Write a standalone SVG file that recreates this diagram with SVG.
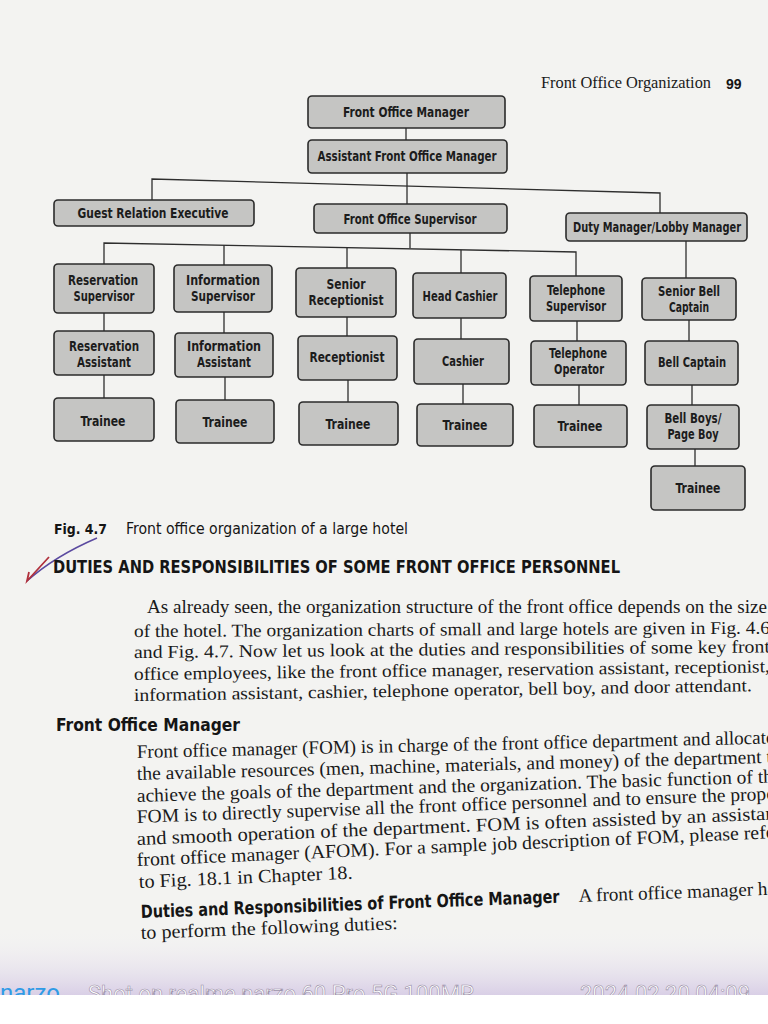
<svg xmlns="http://www.w3.org/2000/svg" width="768" height="1024" viewBox="0 0 768 1024">
<defs>
<style>
.box{fill:#c5c5c3;stroke:#2b2b2b;stroke-width:1.6}
.bt{font-family:'DejaVu Sans Condensed','Liberation Sans',sans-serif;font-weight:bold;font-size:14px;fill:#1c1c1c;text-anchor:middle}
.ln{fill:none;stroke:#2e2e2e;stroke-width:1.3}
.body{font-family:'Liberation Serif','DejaVu Serif',serif;font-size:18px;fill:#1a1a1a}
.hd{font-family:'DejaVu Sans Condensed','Liberation Sans',sans-serif;font-weight:bold;fill:#151515}
.wm{font-family:Roboto,'Liberation Sans',sans-serif;font-size:22px;fill:#ffffff;stroke:#9a8fa8;stroke-width:0.6}
</style>
<linearGradient id="bot" x1="0" y1="0" x2="0" y2="1">
<stop offset="0" stop-color="#f3f2f4" stop-opacity="0"/>
<stop offset="1" stop-color="#d9cfe6" stop-opacity="1"/>
</linearGradient>
<clipPath id="photo"><rect x="0" y="0" width="768" height="995"/></clipPath>
</defs>
<rect x="0" y="0" width="768" height="1024" fill="#ffffff"/>
<rect x="0" y="0" width="768" height="995" fill="#f3f3f1"/>
<rect x="0" y="930" width="768" height="65" fill="url(#bot)"/>
<text x="541" y="88" class="body" style="font-size:16px" textLength="170" lengthAdjust="spacingAndGlyphs">Front Office Organization</text>
<text x="726" y="89" style="font-family:'Liberation Sans',sans-serif;font-weight:bold;font-size:14px;fill:#151515">99</text>
<g id="connectors">
<path class="ln" d="M406 128V140"/>
<path class="ln" d="M407 173V204"/>
<path class="ln" d="M152 200V179L660 193V213"/>
<path class="ln" d="M410 233V248"/>
<path class="ln" d="M104 264V243L576 252V276"/>
<path class="ln" d="M224 245V265"/>
<path class="ln" d="M347 247V268"/>
<path class="ln" d="M461 250V273"/>
<path class="ln" d="M686 241V278"/>
<path class="ln" d="M104 313V331M104 375V398"/>
<path class="ln" d="M224 312V333M225 377V400"/>
<path class="ln" d="M347 317V336M348 380V402"/>
<path class="ln" d="M461 318V339M463 384V404"/>
<path class="ln" d="M577 321V341M579 385V405"/>
<path class="ln" d="M689 320V341M692 385V405M695 449V466"/>
</g>
<g id="n-fom"><rect class="box" x="308" y="96" width="197" height="32" rx="4"/><text class="bt" x="406" y="117" textLength="126" lengthAdjust="spacingAndGlyphs">Front Office Manager</text></g>
<g id="n-afom"><rect class="box" x="308" y="140" width="199" height="33" rx="4"/><text class="bt" x="407" y="161" textLength="179" lengthAdjust="spacingAndGlyphs">Assistant Front Office Manager</text></g>
<g id="n-gre"><rect class="box" x="54" y="200" width="200" height="26" rx="4"/><text class="bt" x="153" y="218" textLength="151" lengthAdjust="spacingAndGlyphs">Guest Relation Executive</text></g>
<g id="n-fos"><rect class="box" x="314" y="204" width="193" height="29" rx="4"/><text class="bt" x="410" y="224" textLength="133" lengthAdjust="spacingAndGlyphs">Front Office Supervisor</text></g>
<g id="n-dm"><rect class="box" x="566" y="213" width="181" height="28" rx="4"/><text class="bt" x="657" y="232" textLength="168" lengthAdjust="spacingAndGlyphs">Duty Manager/Lobby Manager</text></g>
<g id="n-rs"><rect class="box" x="54" y="264" width="100" height="49" rx="4"/><text class="bt" x="103" y="285" textLength="70" lengthAdjust="spacingAndGlyphs">Reservation</text><text class="bt" x="104" y="301" textLength="61" lengthAdjust="spacingAndGlyphs">Supervisor</text></g>
<g id="n-is"><rect class="box" x="174" y="265" width="98" height="47" rx="4"/><text class="bt" x="223" y="285" textLength="74" lengthAdjust="spacingAndGlyphs">Information</text><text class="bt" x="223" y="301" textLength="64" lengthAdjust="spacingAndGlyphs">Supervisor</text></g>
<g id="n-sr"><rect class="box" x="296" y="268" width="100" height="49" rx="4"/><text class="bt" x="346" y="289" textLength="39" lengthAdjust="spacingAndGlyphs">Senior</text><text class="bt" x="346" y="305" textLength="75" lengthAdjust="spacingAndGlyphs">Receptionist</text></g>
<g id="n-hc"><rect class="box" x="413" y="273" width="93" height="45" rx="4"/><text class="bt" x="460" y="301" textLength="75" lengthAdjust="spacingAndGlyphs">Head Cashier</text></g>
<g id="n-ts"><rect class="box" x="530" y="276" width="92" height="45" rx="4"/><text class="bt" x="576" y="295" textLength="58" lengthAdjust="spacingAndGlyphs">Telephone</text><text class="bt" x="576" y="311" textLength="60" lengthAdjust="spacingAndGlyphs">Supervisor</text></g>
<g id="n-sbc"><rect class="box" x="642" y="278" width="94" height="42" rx="4"/><text class="bt" x="689" y="296" textLength="62" lengthAdjust="spacingAndGlyphs">Senior Bell</text><text class="bt" x="689" y="312" textLength="40" lengthAdjust="spacingAndGlyphs">Captain</text></g>
<g id="n-ra"><rect class="box" x="54" y="331" width="100" height="44" rx="4"/><text class="bt" x="104" y="351" textLength="70" lengthAdjust="spacingAndGlyphs">Reservation</text><text class="bt" x="104" y="367" textLength="54" lengthAdjust="spacingAndGlyphs">Assistant</text></g>
<g id="n-ia"><rect class="box" x="175" y="333" width="98" height="44" rx="4"/><text class="bt" x="224" y="351" textLength="74" lengthAdjust="spacingAndGlyphs">Information</text><text class="bt" x="224" y="367" textLength="54" lengthAdjust="spacingAndGlyphs">Assistant</text></g>
<g id="n-rec"><rect class="box" x="298" y="336" width="99" height="44" rx="4"/><text class="bt" x="347" y="362" textLength="75" lengthAdjust="spacingAndGlyphs">Receptionist</text></g>
<g id="n-cash"><rect class="box" x="414" y="339" width="95" height="45" rx="4"/><text class="bt" x="463" y="366" textLength="42" lengthAdjust="spacingAndGlyphs">Cashier</text></g>
<g id="n-to"><rect class="box" x="531" y="341" width="95" height="44" rx="4"/><text class="bt" x="578" y="358" textLength="58" lengthAdjust="spacingAndGlyphs">Telephone</text><text class="bt" x="579" y="374" textLength="50" lengthAdjust="spacingAndGlyphs">Operator</text></g>
<g id="n-bc"><rect class="box" x="645" y="341" width="93" height="44" rx="4"/><text class="bt" x="692" y="367" textLength="68" lengthAdjust="spacingAndGlyphs">Bell Captain</text></g>
<g id="n-t1"><rect class="box" x="54" y="398" width="100" height="43" rx="4"/><text class="bt" x="103" y="426" textLength="45" lengthAdjust="spacingAndGlyphs">Trainee</text></g>
<g id="n-t2"><rect class="box" x="176" y="400" width="98" height="43" rx="4"/><text class="bt" x="225" y="427" textLength="45" lengthAdjust="spacingAndGlyphs">Trainee</text></g>
<g id="n-t3"><rect class="box" x="299" y="402" width="99" height="43" rx="4"/><text class="bt" x="348" y="429" textLength="45" lengthAdjust="spacingAndGlyphs">Trainee</text></g>
<g id="n-t4"><rect class="box" x="417" y="404" width="96" height="42" rx="4"/><text class="bt" x="465" y="430" textLength="45" lengthAdjust="spacingAndGlyphs">Trainee</text></g>
<g id="n-t5"><rect class="box" x="534" y="405" width="93" height="42" rx="4"/><text class="bt" x="580" y="431" textLength="45" lengthAdjust="spacingAndGlyphs">Trainee</text></g>
<g id="n-bb"><rect class="box" x="647" y="405" width="92" height="44" rx="4"/><text class="bt" x="693" y="423" textLength="57" lengthAdjust="spacingAndGlyphs">Bell Boys/</text><text class="bt" x="693" y="439" textLength="51" lengthAdjust="spacingAndGlyphs">Page Boy</text></g>
<g id="n-t6"><rect class="box" x="651" y="466" width="94" height="44" rx="4"/><text class="bt" x="698" y="493" textLength="45" lengthAdjust="spacingAndGlyphs">Trainee</text></g>
<text x="54" y="534" class="hd" style="font-size:14px" textLength="53" lengthAdjust="spacingAndGlyphs">Fig. 4.7</text>
<text x="126" y="534" class="hd" style="font-size:15px;font-weight:normal" textLength="282" lengthAdjust="spacingAndGlyphs">Front office organization of a large hotel</text>
<path d="M27 581Q55 556 97 538" fill="none" stroke="#5b4aa0" stroke-width="1.5"/>
<path d="M29 572L27 581L49 557" fill="none" stroke="#b0303c" stroke-width="1.8"/>
<text x="53" y="573" class="hd" style="font-size:18px" textLength="567" lengthAdjust="spacingAndGlyphs">DUTIES AND RESPONSIBILITIES OF SOME FRONT OFFICE PERSONNEL</text>
<g class="body">
<text x="147" y="613" textLength="620" lengthAdjust="spacingAndGlyphs">As already seen, the organization structure of the front office depends on the size</text>
<text x="134" y="637" transform="rotate(-0.3 134 637)" textLength="636" lengthAdjust="spacingAndGlyphs">of the hotel. The organization charts of small and large hotels are given in Fig. 4.6</text>
<text x="134" y="658" transform="rotate(-0.5 134 658)" textLength="636" lengthAdjust="spacingAndGlyphs">and Fig. 4.7. Now let us look at the duties and responsibilities of some key front</text>
<text x="134" y="680" transform="rotate(-0.7 134 680)" textLength="636" lengthAdjust="spacingAndGlyphs">office employees, like the front office manager, reservation assistant, receptionist,</text>
<text x="134" y="701" transform="rotate(-0.9 134 701)" textLength="618" lengthAdjust="spacingAndGlyphs">information assistant, cashier, telephone operator, bell boy, and door attendant.</text>
</g>
<text x="56" y="731" class="hd" style="font-size:18px" textLength="184" lengthAdjust="spacingAndGlyphs">Front Office Manager</text>
<g class="body" style="font-size:19px">
<text x="137" y="758" transform="rotate(-1.3 137 758)" textLength="645" lengthAdjust="spacingAndGlyphs">Front office manager (FOM) is in charge of the front office department and allocates</text>
<text x="137" y="780" transform="rotate(-1.55 137 780)" textLength="645" lengthAdjust="spacingAndGlyphs">the available resources (men, machine, materials, and money) of the department to</text>
<text x="137" y="802" transform="rotate(-1.75 137 802)" textLength="645" lengthAdjust="spacingAndGlyphs">achieve the goals of the department and the organization. The basic function of the</text>
<text x="137" y="823" transform="rotate(-2.1 137 823)" textLength="645" lengthAdjust="spacingAndGlyphs">FOM is to directly supervise all the front office personnel and to ensure the proper</text>
<text x="137" y="845" transform="rotate(-2.3 137 845)" textLength="645" lengthAdjust="spacingAndGlyphs">and smooth operation of the department. FOM is often assisted by an assistant</text>
<text x="137" y="866" transform="rotate(-2.5 137 866)" textLength="645" lengthAdjust="spacingAndGlyphs">front office manager (AFOM). For a sample job description of FOM, please refer</text>
<text x="139" y="888" transform="rotate(-2.5 139 888)" textLength="214" lengthAdjust="spacingAndGlyphs">to Fig. 18.1 in Chapter 18.</text>
<g transform="rotate(-2.1 141 918)">
<text x="141" y="918" class="hd" style="font-size:18px" textLength="419" lengthAdjust="spacingAndGlyphs">Duties and Responsibilities of Front Office Manager</text>
<text x="579" y="918" textLength="205" lengthAdjust="spacingAndGlyphs">A front office manager has</text>
</g>
<text x="141" y="939" transform="rotate(-2.2 141 939)" textLength="257" lengthAdjust="spacingAndGlyphs">to perform the following duties:</text>
</g>
<g clip-path="url(#photo)">
<text x="0" y="1001" style="font-family:Roboto,'Liberation Sans',sans-serif;font-size:24px;fill:#2f9be6">narzo</text>
<text x="88" y="1001" class="wm">Shot on realme narzo 60 Pro 5G 100MP</text>
<text x="580" y="1001" class="wm">2024 02 20 04:09</text>
</g>
</svg>
